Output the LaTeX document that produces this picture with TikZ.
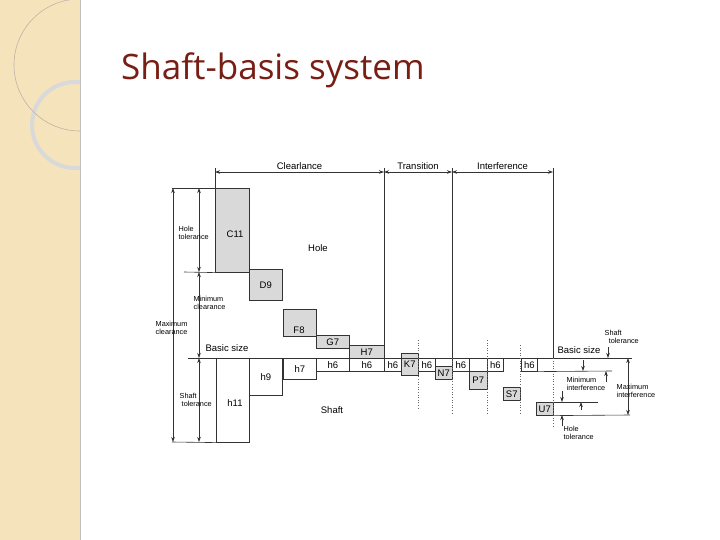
\documentclass[tikz,border=0pt]{standalone}
\usepackage{fontspec}
\usetikzlibrary{arrows.meta}
\setmainfont{Liberation Sans}
\newfontfamily\titlefont{Open Sans}
\begin{document}
\begin{tikzpicture}[x=1pt,y=-1pt,
  hb/.style={draw=black!80,fill=black!15,line width=0.6pt},
  sb/.style={draw=black!80,fill=white,line width=0.6pt},
  ln/.style={draw=black!80,line width=0.6pt},
  dim/.style={draw=black!80,line width=0.6pt,{Stealth[length=5pt,width=3.5pt]}-{Stealth[length=5pt,width=3.5pt]}},
  ar/.style={draw=black!80,line width=0.6pt,-{Stealth[length=5pt,width=3.5pt]}},
  dt/.style={draw=black!60,dotted,line width=0.6pt},
  lb/.style={font=\fontsize{9.5}{11}\selectfont,inner sep=1pt},
  sm/.style={font=\fontsize{7.3}{8.3}\selectfont,inner sep=0.5pt,align=left},
  bl/.style={font=\fontsize{9.5}{11}\selectfont,inner sep=0pt}]
\useasboundingbox (0,0) rectangle (720,540);
\fill[white] (0,0) rectangle (720,540);
\fill[fill={rgb,255:red,245;green,227;blue,188}] (0,0) rectangle (80,540);
\draw[black!25,line width=1pt] (80,0) -- (80,540);
\begin{scope}
\clip (0,0) rectangle (80,540);
\draw[black!15,line width=4pt] (75,125) circle (43);
\draw[brown!50!black!40,line width=0.6pt] (80,65) circle (66);
\end{scope}
\node[font=\titlefont\fontsize{35}{40}\selectfont,text={rgb,255:red,120;green,30;blue,20},anchor=west,inner sep=0] (title) at (121,70) {Shaft-basis system};
% hole boxes
\node[hb,minimum width=34,minimum height=84,inner sep=0,anchor=north west,bl] (C11) at (215,188) {};
\node[bl] at (235,234) {C11};
\node[hb,minimum width=33,minimum height=31,inner sep=0,anchor=north west,bl] (D9) at (249,269) {D9};
\node[hb,minimum width=33,minimum height=27,inner sep=0,anchor=north west,bl] (F8) at (283,309) {};
\node[bl] at (299,330) {F8};
\node[hb,minimum width=33,minimum height=13,inner sep=0,anchor=north west,bl] (G7) at (316,335) {G7};
\node[hb,minimum width=35,minimum height=13,inner sep=0,anchor=north west,bl] (H7) at (349,345) {H7};
% shafts
\node[sb,minimum width=33,minimum height=84,inner sep=0,anchor=north west] (h11) at (216,358) {};
\node[bl] at (235,403) {h11};
\node[sb,minimum width=33,minimum height=37,inner sep=0,anchor=north west,bl] (h9) at (249,358) {h9};
\node[sb,minimum width=33,minimum height=21,inner sep=0,anchor=north west,bl] (h7) at (283,358) {h7};
\foreach \x/\w/\n in {316/33/a,349/35/b,384/17/c,418/17/d,452/17/e,487/16/f,521/16/g}
  \node[sb,minimum width=\w,minimum height=13,inner sep=0,anchor=north west,bl] (h6\n) at (\x,358) {h6};
\node[hb,minimum width=17,minimum height=22,inner sep=0,anchor=north west,bl] (K7) at (401,353) {K7};
\node[hb,minimum width=17,minimum height=13,inner sep=0,anchor=north west,bl] (N7) at (435,366) {N7};
\node[hb,minimum width=18,minimum height=18,inner sep=0,anchor=north west,bl] (P7) at (469,371) {P7};
\node[hb,minimum width=17,minimum height=13,inner sep=0,anchor=north west,bl] (S7) at (503,387) {S7};
\node[hb,minimum width=17,minimum height=13,inner sep=0,anchor=north west,bl] (U7) at (536,402) {U7};
% coordinates
\coordinate (bl0) at (188,358); \coordinate (bl1) at (632,358);
\draw[ln] (bl0) -- (bl1);
\coordinate (v1t) at (384,168); \coordinate (v1b) at (384,358);
\coordinate (v2t) at (452,168); \coordinate (v2b) at (452,358);
\coordinate (v3t) at (553,168); \coordinate (v3b) at (553,358);
\coordinate (v0t) at (215,168);
\draw[ln] (v0t) -- (C11.north west);
\draw[ln] (v1t) -- (v1b); \draw[ln] (v2t) -- (v2b); \draw[ln] (v3t) -- (v3b);
\coordinate (a0) at (215,172); \coordinate (a1) at (384,172); \coordinate (a2) at (452,172); \coordinate (a3) at (553,172);
\draw[dim] (a0) -- node[lb,above=1pt] {Clearlance} (a1);
\draw[dim] (a1) -- node[lb,above=1.5pt] (tr) {Transition} (a2);
\draw[dim] (a2) -- node[lb,above=1pt] {Interference} (a3);
% dotted
\foreach \x/\a/\b in {418/340/410,452/358/415,487/340/415,520/345/415,553/358/428}
  \draw[dt] (\x,\a) -- (\x,\b);
% left dims
\coordinate (t0) at (172,188); \coordinate (t1) at (184,272); \coordinate (t3) at (172,442);
\draw[ln] (t0) -- (C11.north west);
\draw[ln] (t1) -- (C11.south west);
\draw[ln] (t3) -- (h11.south west);
\coordinate (m0) at (173,188); \coordinate (m1) at (173,442);
\draw[dim] (m0) -- (m1);
\coordinate (s0) at (199,188); \coordinate (s1) at (199,272); \coordinate (s2) at (199,358); \coordinate (s3) at (199,442);
\draw[dim] (s0) -- (s1); \draw[dim] (s1) -- (s2); \draw[dim] (s2) -- (s3);
\node[sm,anchor=west] at (178,233) {Hole\\tolerance};
\node[sm,anchor=west] at (193,303) {Minimum\\clearance};
\node[sm,anchor=west] at (155,328) {Maximum\\clearance};
\node[sm,anchor=west] at (179,400) {Shaft\\\ tolerance};
\node[bl] at (227,348) {Basic size};
\node[bl] at (579,350) {Basic size};
\node[lb] at (318,248) {Hole};
\node[lb] at (332,410) {Shaft};
% right dims
\coordinate (r1a) at (612,371); \coordinate (r2a) at (598,402); \coordinate (r3a) at (630,415);
\draw[ln] (h6g.south east) -- (r1a);
\draw[ln] (U7.north east) -- (r2a);
\draw[ln] (U7.south east) -- (r3a);
\coordinate (mi0) at (628,358); \coordinate (mi1) at (628,415);
\draw[dim] (mi0) -- (mi1);
\draw[ar] (608,347) -- (608,358);
\draw[ar] (583,360) -- (583,371);
\draw[ar] (606,382) -- (606,371);
\draw[ar] (562,391) -- (562,402);
\draw[ar] (562,426) -- (562,415);
\draw[ar] (581,410) -- (581,402);
\node[sm,anchor=west] at (604,337) {Shaft\\\ \ tolerance};
\node[sm,anchor=west] at (566,384) {Minimum\\interference};
\node[sm,anchor=west] at (616,391) {Maximum\\interference};
\node[sm,anchor=west] at (563,433) {Hole\\tolerance};
\end{tikzpicture}
\end{document}
